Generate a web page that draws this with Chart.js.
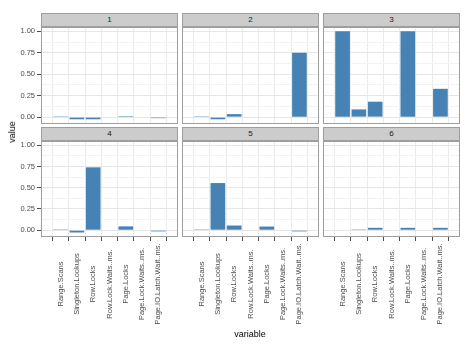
<!DOCTYPE html>
<html>
<head>
<meta charset="utf-8">
<script src="https://cdn.jsdelivr.net/npm/chart.js@4"></script>
<style>
  body { margin: 0; background: #fff; }
  #wrap { position: relative; width: 474px; height: 347px; overflow: hidden; font-family: Arial, "Liberation Sans", sans-serif; }
  #wrap canvas { position: absolute; }
  .strip { position: absolute; box-sizing: border-box; height: 14px; background: #cccccc; border: 1px solid #9e9e9e;
           font-size: 8px; line-height: 12px; text-align: center; color: #1a1a1a; }
  .title { position: absolute; font-size: 9px; color: #000; white-space: nowrap; }
</style>
</head>
<body>
<div id="wrap"></div>
<script>
// variables on the x axis (same for every facet)
const categories = ['Range.Scans', 'Singleton.Lookups', 'Row.Locks', 'Row.Lock.Waits..ms.',
                    'Page.Locks', 'Page.Lock.Waits..ms.', 'Page.IO.Latch.Wait..ms.'];
const facetNames = ['1', '2', '3', '4', '5', '6'];

// values per facet
const facet1 = [0.01, -0.025, -0.025, 0, 0.012, 0, -0.012];
const facet2 = [0.01, -0.025, 0.035, 0, 0, 0, 0.75];
const facet3 = [1.0, 0.09, 0.18, 0, 1.0, 0, 0.33];
const facet4 = [0.01, -0.027, 0.74, 0, 0.045, 0, -0.014];
const facet5 = [0.01, 0.555, 0.055, 0, 0.043, 0, -0.014];
const facet6 = [0, 0.01, 0.028, 0, 0.028, 0, 0.028];
const facetValues = [facet1, facet2, facet3, facet4, facet5, facet6];

const yMajor = [0, 0.25, 0.5, 0.75, 1];
const yMinor = [0.125, 0.375, 0.625, 0.875];
const yTickLabels = ['0.00', '0.25', '0.50', '0.75', '1.00'];

// panel rectangles (pixels)
const colLeft = [41, 182, 323];
const colRight = [178, 319, 460];
const rowTop = [27, 141];
const rowBottom = [124, 237];
const stripTop = [13, 127];

const wrap = document.getElementById('wrap');
const textCol = '#4d4d4d';

// no label overhang padding, the panels are fixed
const noPad = s => { s.paddingTop = s.paddingBottom = s.paddingLeft = s.paddingRight = 0; };

// box round the panel
const panelBorder = {
    id: 'panelBorder',
    afterDraw(chart) {
        const { ctx, chartArea: a } = chart;
        ctx.save();
        ctx.strokeStyle = '#9e9e9e';
        ctx.lineWidth = 1;
        ctx.strokeRect(Math.round(a.left) + 0.5, Math.round(a.top) + 0.5,
                       Math.round(a.right - a.left) - 1, Math.round(a.bottom - a.top) - 1);
        ctx.restore();
    }
};

// rotated x labels, centred like ggplot's angle = 90
const xLabels = {
    id: 'xLabels',
    afterDraw(chart, args, opts) {
        if (!opts.show) return;
        const { ctx } = chart;
        const sx = chart.scales.x;
        ctx.save();
        ctx.font = '7.5px Arial, "Liberation Sans", sans-serif';
        ctx.fillStyle = textCol;
        ctx.textAlign = 'center';
        ctx.textBaseline = 'middle';
        categories.forEach((c, i) => {
            const x = sx.getPixelForValue(i + 1);
            ctx.save();
            ctx.translate(x, chart.chartArea.bottom + 47);
            ctx.rotate(-Math.PI / 2);
            ctx.fillText(c, 0, 0);
            ctx.restore();
        });
        ctx.restore();
    }
};

facetValues.forEach((vals, i) => {
    const col = i % 3, row = Math.floor(i / 3);
    const left = col === 0 ? 0 : colLeft[col] - 1;
    const right = colRight[col] + 1;
    const top = rowTop[row] - 1;
    const bottom = row === 1 ? 347 : rowBottom[row] + 1;

    const strip = document.createElement('div');
    strip.className = 'strip';
    strip.style.left = colLeft[col] + 'px';
    strip.style.top = stripTop[row] + 'px';
    strip.style.width = (colRight[col] - colLeft[col]) + 'px';
    strip.textContent = facetNames[i];
    wrap.appendChild(strip);

    const cv = document.createElement('canvas');
    cv.width = right - left;
    cv.height = bottom - top;
    cv.style.left = left + 'px';
    cv.style.top = top + 'px';
    wrap.appendChild(cv);

    new Chart(cv, {
        type: 'bar',
        data: {
            datasets: [{
                data: vals.map((v, k) => ({ x: k + 1, y: v })),
                backgroundColor: '#4682b4',
                borderWidth: 0,
                categoryPercentage: 0.9,
                barPercentage: 1
            }]
        },
        options: {
            responsive: false,
            animation: false,
            devicePixelRatio: 1,
            layout: { padding: { left: col === 0 ? 0 : 1, right: 1, top: 1, bottom: row === 1 ? 0 : 1 } },
            plugins: { legend: { display: false }, tooltip: { enabled: false }, xLabels: { show: row === 1 } },
            scales: {
                x: {
                    type: 'linear',
                    min: 0.4,
                    max: 7.6,
                    afterBuildTicks: s => { s.ticks = categories.map((c, k) => ({ value: k + 1 })); },
                    afterFit: s => { s.height = row === 1 ? 347 - rowBottom[1] : 0; noPad(s); },
                    ticks: { display: false },
                    border: { display: false },
                    grid: {
                        color: '#ebebeb',
                        lineWidth: 1,
                        drawTicks: row === 1,
                        tickLength: 4,
                        tickColor: textCol
                    }
                },
                y: {
                    min: -0.08,
                    max: 1.05,
                    afterBuildTicks: s => { s.ticks = yMajor.concat(yMinor).sort((a, b) => a - b).map(v => ({ value: v })); },
                    afterFit: s => { s.width = col === 0 ? colLeft[0] : 0; noPad(s); },
                    border: { display: false },
                    ticks: {
                        display: col === 0,
                        color: textCol,
                        font: { size: 7.5, family: 'Arial, "Liberation Sans", sans-serif' },
                        padding: 2,
                        autoSkip: false,
                        callback: v => {
                            const k = yMajor.indexOf(v);
                            return k >= 0 ? yTickLabels[k] : '';
                        }
                    },
                    grid: {
                        color: c => yMajor.includes(c.tick.value) ? '#e6e6e6' : '#f3f3f3',
                        lineWidth: 1,
                        drawTicks: col === 0,
                        tickLength: 4,
                        tickColor: c => yMajor.includes(c.tick.value) ? textCol : 'rgba(0,0,0,0)'
                    }
                }
            }
        },
        plugins: [panelBorder, xLabels]
    });
});

// axis titles
const yTitle = document.createElement('div');
yTitle.className = 'title';
yTitle.textContent = 'value';
yTitle.style.left = '12px';
yTitle.style.top = '132px';
yTitle.style.transform = 'translate(-50%, -50%) rotate(-90deg)';
wrap.appendChild(yTitle);

const xTitle = document.createElement('div');
xTitle.className = 'title';
xTitle.textContent = 'variable';
xTitle.style.left = '250px';
xTitle.style.top = '334px';
xTitle.style.transform = 'translate(-50%, -50%)';
wrap.appendChild(xTitle);
</script>
</body>
</html>
